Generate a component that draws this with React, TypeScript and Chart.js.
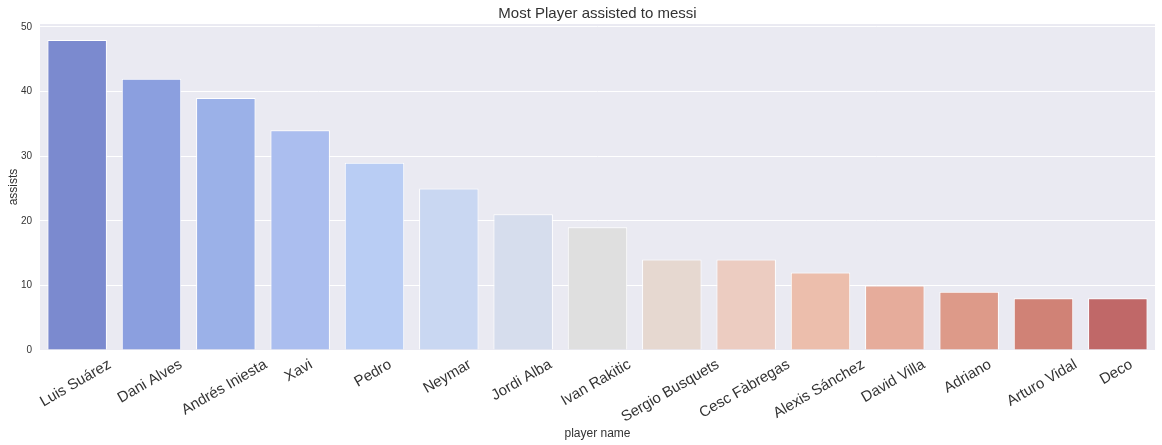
import React, { useEffect, useRef } from 'react';
import { Chart, registerables } from 'chart.js';

Chart.register(...registerables);

const players = ['Luis Suárez', 'Dani Alves', 'Andrés Iniesta', 'Xavi', 'Pedro', 'Neymar', 'Jordi Alba', 'Ivan Rakitic', 'Sergio Busquets', 'Cesc Fàbregas', 'Alexis Sánchez', 'David Villa', 'Adriano', 'Arturo Vidal', 'Deco'];
const assists = [48, 42, 39, 34, 29, 25, 21, 19, 14, 14, 12, 10, 9, 8, 8];
const barColors = ['#7b8acf', '#8b9fdf', '#9bb1e8', '#abbeef', '#b9cdf4', '#c9d7f2', '#d6dded', '#dfdfdf', '#e6d8d0', '#ecccc1', '#ecbeac', '#e6ac9b', '#dd9a89', '#d08276', '#c06868'];
const yTicks = [0, 10, 20, 30, 40, 50];

const FONT = '"Liberation Sans", Arial, sans-serif';
const TEXT = '#333333';

const plotBackground = {
    id: 'plotBackground',
    beforeDraw(chart: any) {
        const { ctx, chartArea: a } = chart;
        ctx.save();
        ctx.fillStyle = '#eaeaf2';
        ctx.fillRect(a.left, a.top, a.width, a.height);
        ctx.restore();
    },
};

// chart.js right-aligns rotated ticks, the reference centres them on the bar
const centeredTicks = {
    id: 'centeredTicks',
    afterDatasetsDraw(chart: any) {
        const { ctx, scales } = chart;
        const x = scales.x;
        ctx.save();
        ctx.font = `15px ${FONT}`;
        ctx.fillStyle = TEXT;
        ctx.textAlign = 'center';
        ctx.textBaseline = 'middle';
        players.forEach((name, i) => {
            const width = ctx.measureText(name).width;
            const drop = (width * Math.sin(Math.PI / 6) + 15 * Math.cos(Math.PI / 6)) / 2;
            ctx.save();
            ctx.translate(x.getPixelForValue(i) - 1.5, x.top + 7 + drop);
            ctx.rotate(-Math.PI / 6);
            ctx.fillText(name, 0, 0);
            ctx.restore();
        });
        ctx.restore();
    },
};

const App: React.FC = () => {
    const chartRef = useRef<HTMLCanvasElement | null>(null);

    useEffect(() => {
        document.body.style.margin = '0';
        if (!chartRef.current) return;
        const chart = new Chart(chartRef.current, {
            type: 'bar',
            data: {
                labels: players,
                datasets: [{
                    data: assists,
                    backgroundColor: barColors,
                    borderColor: '#ffffff',
                    borderWidth: 1,
                    barPercentage: 0.8,
                    categoryPercentage: 1,
                }],
            },
            plugins: [plotBackground, centeredTicks],
            options: {
                animation: false,
                responsive: false,
                layout: { padding: { right: 7, left: 0, top: 0, bottom: 4 } },
                plugins: {
                    legend: { display: false },
                    tooltip: { enabled: false },
                    title: {
                        display: true,
                        fullSize: false,
                        text: 'Most Player assisted to messi',
                        color: TEXT,
                        font: { family: FONT, size: 15, weight: 'normal' },
                        padding: { top: 5, bottom: 1 },
                    },
                },
                scales: {
                    x: {
                        grid: { display: false },
                        border: { display: false },
                        ticks: { display: false },
                        title: {
                            display: true,
                            text: 'player name',
                            color: TEXT,
                            font: { family: FONT, size: 12 },
                            padding: 0,
                        },
                        afterFit: (scale: any) => { scale.height = 91; },
                    },
                    y: {
                        min: 0,
                        max: 50.46,
                        grid: { color: '#ffffff', lineWidth: 1, drawTicks: false },
                        border: { display: false },
                        ticks: {
                            color: TEXT,
                            padding: 8,
                            font: { family: FONT, size: 10 },
                        },
                        afterBuildTicks: (scale: any) => {
                            scale.ticks = yTicks.map(value => ({ value }));
                        },
                        title: {
                            display: true,
                            text: 'assists',
                            color: TEXT,
                            font: { family: FONT, size: 12 },
                            padding: { top: 6, bottom: 0 },
                        },
                        afterFit: (scale: any) => { scale.width = 40; },
                    },
                },
            },
        });
        return () => {
            chart.destroy();
        };
    }, []);

    return <canvas ref={chartRef} width={1162} height={445} style={{ display: 'block' }}></canvas>;
};

export default App;
